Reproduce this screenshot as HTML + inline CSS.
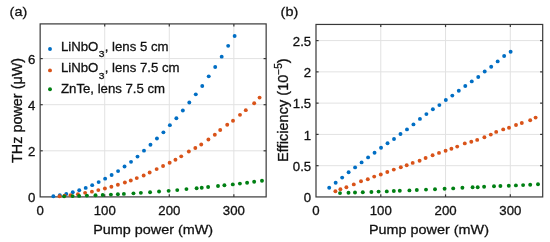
<!DOCTYPE html>
<html><head><meta charset="utf-8"><title>THz power and efficiency</title>
<style>
html,body{margin:0;padding:0;background:#fff;}
svg{display:block;font-family:"Liberation Sans",Arial,Helvetica,sans-serif;}
text{fill:#111;stroke:#111;stroke-width:0.3px;}
.tk text{font-size:13.2px;letter-spacing:0.0px;}
.lb{font-size:14.4px;letter-spacing:0.0px;}
.lb2{font-size:14.4px;letter-spacing:0.08px;}
.lg{font-size:13.2px;letter-spacing:0.0px;}
.sub{font-size:10.3px;}
.sup{font-size:10.0px;}
</style></head>
<body>
<svg width="550" height="242" viewBox="0 0 550 242">
<rect x="0" y="0" width="550" height="242" fill="#ffffff"/>
<!-- panel a -->
<line x1="104.72" y1="23.90" x2="104.72" y2="196.90" stroke="#e2e2e2" stroke-width="1"/><line x1="169.29" y1="23.90" x2="169.29" y2="196.90" stroke="#e2e2e2" stroke-width="1"/><line x1="233.86" y1="23.90" x2="233.86" y2="196.90" stroke="#e2e2e2" stroke-width="1"/><line x1="40.15" y1="150.80" x2="266.15" y2="150.80" stroke="#e2e2e2" stroke-width="1"/><line x1="40.15" y1="104.70" x2="266.15" y2="104.70" stroke="#e2e2e2" stroke-width="1"/><line x1="40.15" y1="58.60" x2="266.15" y2="58.60" stroke="#e2e2e2" stroke-width="1"/>
<rect x="40.15" y="23.90" width="226.00" height="173.00" fill="none" stroke="#383838" stroke-width="1.20"/><line x1="104.72" y1="196.90" x2="104.72" y2="194.30" stroke="#383838" stroke-width="1.20"/><line x1="104.72" y1="23.90" x2="104.72" y2="26.50" stroke="#383838" stroke-width="1.20"/><line x1="169.29" y1="196.90" x2="169.29" y2="194.30" stroke="#383838" stroke-width="1.20"/><line x1="169.29" y1="23.90" x2="169.29" y2="26.50" stroke="#383838" stroke-width="1.20"/><line x1="233.86" y1="196.90" x2="233.86" y2="194.30" stroke="#383838" stroke-width="1.20"/><line x1="233.86" y1="23.90" x2="233.86" y2="26.50" stroke="#383838" stroke-width="1.20"/><line x1="40.15" y1="150.80" x2="42.75" y2="150.80" stroke="#383838" stroke-width="1.20"/><line x1="266.15" y1="150.80" x2="263.55" y2="150.80" stroke="#383838" stroke-width="1.20"/><line x1="40.15" y1="104.70" x2="42.75" y2="104.70" stroke="#383838" stroke-width="1.20"/><line x1="266.15" y1="104.70" x2="263.55" y2="104.70" stroke="#383838" stroke-width="1.20"/><line x1="40.15" y1="58.60" x2="42.75" y2="58.60" stroke="#383838" stroke-width="1.20"/><line x1="266.15" y1="58.60" x2="263.55" y2="58.60" stroke="#383838" stroke-width="1.20"/><g class="tk"><text transform="translate(40.15,215.00) scale(1,0.940)" text-anchor="middle">0</text>
<text transform="translate(104.72,215.00) scale(1,0.940)" text-anchor="middle">100</text>
<text transform="translate(169.29,215.00) scale(1,0.940)" text-anchor="middle">200</text>
<text transform="translate(233.86,215.00) scale(1,0.940)" text-anchor="middle">300</text>
<text transform="translate(35.35,202.20) scale(1,0.940)" text-anchor="end">0</text>
<text transform="translate(35.35,156.10) scale(1,0.940)" text-anchor="end">2</text>
<text transform="translate(35.35,110.00) scale(1,0.940)" text-anchor="end">4</text>
<text transform="translate(35.35,63.90) scale(1,0.940)" text-anchor="end">6</text>
</g>
<g fill="#006EC4"><circle cx="53.34" cy="196.20" r="1.95"/><circle cx="59.81" cy="195.29" r="1.95"/><circle cx="66.29" cy="194.00" r="1.95"/><circle cx="72.76" cy="192.28" r="1.95"/><circle cx="79.24" cy="190.29" r="1.95"/><circle cx="85.71" cy="187.90" r="1.95"/><circle cx="92.19" cy="185.14" r="1.95"/><circle cx="98.66" cy="182.11" r="1.95"/><circle cx="105.14" cy="178.66" r="1.95"/><circle cx="111.61" cy="174.97" r="1.95"/><circle cx="118.09" cy="171.12" r="1.95"/><circle cx="124.56" cy="166.57" r="1.95"/><circle cx="131.04" cy="161.87" r="1.95"/><circle cx="137.51" cy="156.60" r="1.95"/><circle cx="143.99" cy="150.67" r="1.95"/><circle cx="150.46" cy="144.77" r="1.95"/><circle cx="156.94" cy="138.45" r="1.95"/><circle cx="163.41" cy="132.33" r="1.95"/><circle cx="169.89" cy="125.17" r="1.95"/><circle cx="176.36" cy="118.18" r="1.95"/><circle cx="182.84" cy="110.54" r="1.95"/><circle cx="189.31" cy="102.54" r="1.95"/><circle cx="195.79" cy="94.37" r="1.95"/><circle cx="202.26" cy="86.04" r="1.95"/><circle cx="208.74" cy="76.33" r="1.95"/><circle cx="215.21" cy="67.01" r="1.95"/><circle cx="221.69" cy="56.63" r="1.95"/><circle cx="228.16" cy="45.84" r="1.95"/><circle cx="234.64" cy="35.99" r="1.95"/></g>
<g fill="#D95319"><circle cx="59.54" cy="196.26" r="1.95"/><circle cx="64.53" cy="195.82" r="1.95"/><circle cx="70.53" cy="195.19" r="1.95"/><circle cx="77.92" cy="194.17" r="1.95"/><circle cx="85.12" cy="192.83" r="1.95"/><circle cx="91.91" cy="191.63" r="1.95"/><circle cx="98.31" cy="190.12" r="1.95"/><circle cx="104.90" cy="188.57" r="1.95"/><circle cx="111.39" cy="186.72" r="1.95"/><circle cx="117.89" cy="184.73" r="1.95"/><circle cx="124.88" cy="182.48" r="1.95"/><circle cx="130.78" cy="180.50" r="1.95"/><circle cx="136.78" cy="178.09" r="1.95"/><circle cx="143.67" cy="175.45" r="1.95"/><circle cx="149.67" cy="172.52" r="1.95"/><circle cx="156.66" cy="169.11" r="1.95"/><circle cx="163.06" cy="165.97" r="1.95"/><circle cx="169.65" cy="162.69" r="1.95"/><circle cx="175.45" cy="159.70" r="1.95"/><circle cx="181.24" cy="156.34" r="1.95"/><circle cx="188.84" cy="151.44" r="1.95"/><circle cx="195.33" cy="147.96" r="1.95"/><circle cx="201.23" cy="144.45" r="1.95"/><circle cx="208.42" cy="139.52" r="1.95"/><circle cx="214.82" cy="134.75" r="1.95"/><circle cx="220.21" cy="130.06" r="1.95"/><circle cx="227.21" cy="124.80" r="1.95"/><circle cx="233.00" cy="120.81" r="1.95"/><circle cx="240.00" cy="114.86" r="1.95"/><circle cx="245.79" cy="110.14" r="1.95"/><circle cx="254.18" cy="103.19" r="1.95"/><circle cx="259.58" cy="97.58" r="1.95"/></g>
<g fill="#008013"><circle cx="64.13" cy="196.36" r="1.95"/><circle cx="72.62" cy="196.11" r="1.95"/><circle cx="79.12" cy="195.88" r="1.95"/><circle cx="86.91" cy="195.60" r="1.95"/><circle cx="95.51" cy="195.30" r="1.95"/><circle cx="102.70" cy="194.95" r="1.95"/><circle cx="110.90" cy="194.61" r="1.95"/><circle cx="117.89" cy="194.21" r="1.95"/><circle cx="123.89" cy="193.90" r="1.95"/><circle cx="133.48" cy="193.35" r="1.95"/><circle cx="140.87" cy="192.84" r="1.95"/><circle cx="150.07" cy="192.21" r="1.95"/><circle cx="159.06" cy="191.56" r="1.95"/><circle cx="168.65" cy="190.84" r="1.95"/><circle cx="177.24" cy="190.12" r="1.95"/><circle cx="186.44" cy="189.08" r="1.95"/><circle cx="196.63" cy="188.18" r="1.95"/><circle cx="201.73" cy="187.80" r="1.95"/><circle cx="208.12" cy="187.06" r="1.95"/><circle cx="218.01" cy="185.98" r="1.95"/><circle cx="224.41" cy="185.27" r="1.95"/><circle cx="232.80" cy="184.41" r="1.95"/><circle cx="239.90" cy="183.61" r="1.95"/><circle cx="247.09" cy="182.78" r="1.95"/><circle cx="254.18" cy="181.80" r="1.95"/><circle cx="261.98" cy="180.75" r="1.95"/></g>
<!-- panel b -->
<line x1="380.77" y1="24.45" x2="380.77" y2="196.95" stroke="#e2e2e2" stroke-width="1"/><line x1="445.54" y1="24.45" x2="445.54" y2="196.95" stroke="#e2e2e2" stroke-width="1"/><line x1="510.31" y1="24.45" x2="510.31" y2="196.95" stroke="#e2e2e2" stroke-width="1"/><line x1="316.00" y1="165.68" x2="542.70" y2="165.68" stroke="#e2e2e2" stroke-width="1"/><line x1="316.00" y1="134.41" x2="542.70" y2="134.41" stroke="#e2e2e2" stroke-width="1"/><line x1="316.00" y1="103.14" x2="542.70" y2="103.14" stroke="#e2e2e2" stroke-width="1"/><line x1="316.00" y1="71.87" x2="542.70" y2="71.87" stroke="#e2e2e2" stroke-width="1"/><line x1="316.00" y1="40.60" x2="542.70" y2="40.60" stroke="#e2e2e2" stroke-width="1"/>
<rect x="316.00" y="24.45" width="226.70" height="172.50" fill="none" stroke="#383838" stroke-width="1.20"/><line x1="380.77" y1="196.95" x2="380.77" y2="194.35" stroke="#383838" stroke-width="1.20"/><line x1="380.77" y1="24.45" x2="380.77" y2="27.05" stroke="#383838" stroke-width="1.20"/><line x1="445.54" y1="196.95" x2="445.54" y2="194.35" stroke="#383838" stroke-width="1.20"/><line x1="445.54" y1="24.45" x2="445.54" y2="27.05" stroke="#383838" stroke-width="1.20"/><line x1="510.31" y1="196.95" x2="510.31" y2="194.35" stroke="#383838" stroke-width="1.20"/><line x1="510.31" y1="24.45" x2="510.31" y2="27.05" stroke="#383838" stroke-width="1.20"/><line x1="316.00" y1="165.68" x2="318.60" y2="165.68" stroke="#383838" stroke-width="1.20"/><line x1="542.70" y1="165.68" x2="540.10" y2="165.68" stroke="#383838" stroke-width="1.20"/><line x1="316.00" y1="134.41" x2="318.60" y2="134.41" stroke="#383838" stroke-width="1.20"/><line x1="542.70" y1="134.41" x2="540.10" y2="134.41" stroke="#383838" stroke-width="1.20"/><line x1="316.00" y1="103.14" x2="318.60" y2="103.14" stroke="#383838" stroke-width="1.20"/><line x1="542.70" y1="103.14" x2="540.10" y2="103.14" stroke="#383838" stroke-width="1.20"/><line x1="316.00" y1="71.87" x2="318.60" y2="71.87" stroke="#383838" stroke-width="1.20"/><line x1="542.70" y1="71.87" x2="540.10" y2="71.87" stroke="#383838" stroke-width="1.20"/><line x1="316.00" y1="40.60" x2="318.60" y2="40.60" stroke="#383838" stroke-width="1.20"/><line x1="542.70" y1="40.60" x2="540.10" y2="40.60" stroke="#383838" stroke-width="1.20"/><g class="tk"><text transform="translate(316.00,215.00) scale(1,0.940)" text-anchor="middle">0</text>
<text transform="translate(380.77,215.00) scale(1,0.940)" text-anchor="middle">100</text>
<text transform="translate(445.54,215.00) scale(1,0.940)" text-anchor="middle">200</text>
<text transform="translate(510.31,215.00) scale(1,0.940)" text-anchor="middle">300</text>
<text transform="translate(311.20,202.25) scale(1,0.940)" text-anchor="end">0</text>
<text transform="translate(311.20,170.98) scale(1,0.940)" text-anchor="end">0.5</text>
<text transform="translate(311.20,139.71) scale(1,0.940)" text-anchor="end">1</text>
<text transform="translate(311.20,108.44) scale(1,0.940)" text-anchor="end">1.5</text>
<text transform="translate(311.20,77.17) scale(1,0.940)" text-anchor="end">2</text>
<text transform="translate(311.20,45.90) scale(1,0.940)" text-anchor="end">2.5</text>
</g>
<g fill="#006EC4"><circle cx="329.20" cy="187.80" r="1.95"/><circle cx="335.68" cy="182.70" r="1.95"/><circle cx="342.16" cy="177.60" r="1.95"/><circle cx="348.64" cy="172.20" r="1.95"/><circle cx="355.12" cy="167.40" r="1.95"/><circle cx="361.60" cy="162.40" r="1.95"/><circle cx="368.08" cy="157.40" r="1.95"/><circle cx="374.56" cy="152.70" r="1.95"/><circle cx="381.04" cy="147.80" r="1.95"/><circle cx="387.52" cy="143.20" r="1.95"/><circle cx="394.00" cy="139.00" r="1.95"/><circle cx="400.48" cy="134.00" r="1.95"/><circle cx="406.96" cy="129.40" r="1.95"/><circle cx="413.44" cy="124.40" r="1.95"/><circle cx="419.92" cy="118.90" r="1.95"/><circle cx="426.40" cy="114.10" r="1.95"/><circle cx="432.88" cy="109.20" r="1.95"/><circle cx="439.36" cy="105.10" r="1.95"/><circle cx="445.84" cy="100.00" r="1.95"/><circle cx="452.32" cy="95.60" r="1.95"/><circle cx="458.80" cy="90.80" r="1.95"/><circle cx="465.28" cy="86.00" r="1.95"/><circle cx="471.76" cy="81.40" r="1.95"/><circle cx="478.24" cy="77.00" r="1.95"/><circle cx="484.72" cy="71.50" r="1.95"/><circle cx="491.20" cy="66.80" r="1.95"/><circle cx="497.68" cy="61.40" r="1.95"/><circle cx="504.16" cy="56.00" r="1.95"/><circle cx="510.64" cy="51.80" r="1.95"/></g>
<g fill="#D95319"><circle cx="335.40" cy="191.30" r="1.95"/><circle cx="340.40" cy="189.30" r="1.95"/><circle cx="346.40" cy="187.20" r="1.95"/><circle cx="353.80" cy="184.40" r="1.95"/><circle cx="361.00" cy="181.20" r="1.95"/><circle cx="367.80" cy="179.20" r="1.95"/><circle cx="374.20" cy="176.60" r="1.95"/><circle cx="380.80" cy="174.50" r="1.95"/><circle cx="387.30" cy="172.00" r="1.95"/><circle cx="393.80" cy="169.60" r="1.95"/><circle cx="400.80" cy="167.20" r="1.95"/><circle cx="406.70" cy="165.30" r="1.95"/><circle cx="412.70" cy="162.90" r="1.95"/><circle cx="419.60" cy="160.70" r="1.95"/><circle cx="425.60" cy="158.00" r="1.95"/><circle cx="432.60" cy="155.20" r="1.95"/><circle cx="439.00" cy="152.90" r="1.95"/><circle cx="445.60" cy="150.70" r="1.95"/><circle cx="451.40" cy="148.80" r="1.95"/><circle cx="457.20" cy="146.60" r="1.95"/><circle cx="464.80" cy="143.40" r="1.95"/><circle cx="471.30" cy="141.70" r="1.95"/><circle cx="477.20" cy="139.90" r="1.95"/><circle cx="484.40" cy="137.20" r="1.95"/><circle cx="490.80" cy="134.60" r="1.95"/><circle cx="496.20" cy="131.90" r="1.95"/><circle cx="503.20" cy="129.40" r="1.95"/><circle cx="509.00" cy="127.80" r="1.95"/><circle cx="516.00" cy="125.00" r="1.95"/><circle cx="521.80" cy="123.00" r="1.95"/><circle cx="530.20" cy="120.20" r="1.95"/><circle cx="535.60" cy="117.60" r="1.95"/></g>
<g fill="#008013"><circle cx="340.00" cy="193.10" r="1.95"/><circle cx="348.50" cy="192.80" r="1.95"/><circle cx="355.00" cy="192.50" r="1.95"/><circle cx="362.80" cy="192.20" r="1.95"/><circle cx="371.40" cy="192.00" r="1.95"/><circle cx="378.60" cy="191.60" r="1.95"/><circle cx="386.80" cy="191.40" r="1.95"/><circle cx="393.80" cy="191.00" r="1.95"/><circle cx="399.80" cy="190.80" r="1.95"/><circle cx="409.40" cy="190.40" r="1.95"/><circle cx="416.80" cy="190.00" r="1.95"/><circle cx="426.00" cy="189.60" r="1.95"/><circle cx="435.00" cy="189.20" r="1.95"/><circle cx="444.60" cy="188.80" r="1.95"/><circle cx="453.20" cy="188.40" r="1.95"/><circle cx="462.40" cy="187.70" r="1.95"/><circle cx="472.60" cy="187.30" r="1.95"/><circle cx="477.70" cy="187.20" r="1.95"/><circle cx="484.10" cy="186.80" r="1.95"/><circle cx="494.00" cy="186.30" r="1.95"/><circle cx="500.40" cy="186.00" r="1.95"/><circle cx="508.80" cy="185.70" r="1.95"/><circle cx="515.90" cy="185.40" r="1.95"/><circle cx="523.10" cy="185.10" r="1.95"/><circle cx="530.20" cy="184.70" r="1.95"/><circle cx="538.00" cy="184.30" r="1.95"/></g>
<text transform="translate(9.60,16.30) scale(1,0.940)" text-anchor="start" class="lb">(a)</text>
<text transform="translate(280.60,16.30) scale(1,0.940)" text-anchor="start" class="lb">(b)</text>
<text transform="translate(153.15,233.90) scale(1,0.940)" text-anchor="middle" class="lb">Pump power (mW)</text>
<text transform="translate(429.00,233.90) scale(1,0.940)" text-anchor="middle" class="lb">Pump power (mW)</text>
<text transform="translate(21.80,110.40) rotate(-90)" text-anchor="middle" class="lb">THz power (μW)</text>
<text transform="translate(288.40,110.10) rotate(-90)" text-anchor="middle" class="lb2">Efficiency (10<tspan class="sup" dy="-6.5">−5</tspan><tspan dy="6.5">)</tspan></text>
<circle cx="50" cy="49.00" r="1.95" fill="#006EC4"/><text transform="translate(61.00,51.00) scale(1,0.940)" text-anchor="start" class="lg">LiNbO<tspan class="sub" dy="6.7" dx="0.4">3</tspan><tspan dy="-6.7" dx="0.2">, lens 5 cm</tspan></text>
<circle cx="50" cy="70.40" r="1.95" fill="#D95319"/><text transform="translate(61.00,72.40) scale(1,0.940)" text-anchor="start" class="lg">LiNbO<tspan class="sub" dy="6.7" dx="0.4">3</tspan><tspan dy="-6.7" dx="0.2">, lens 7.5 cm</tspan></text>
<circle cx="50" cy="89.30" r="1.95" fill="#008013"/><text transform="translate(61.00,93.00) scale(1,0.940)" text-anchor="start" class="lg">ZnTe, lens 7.5 cm</text>
</svg>
</body></html>
